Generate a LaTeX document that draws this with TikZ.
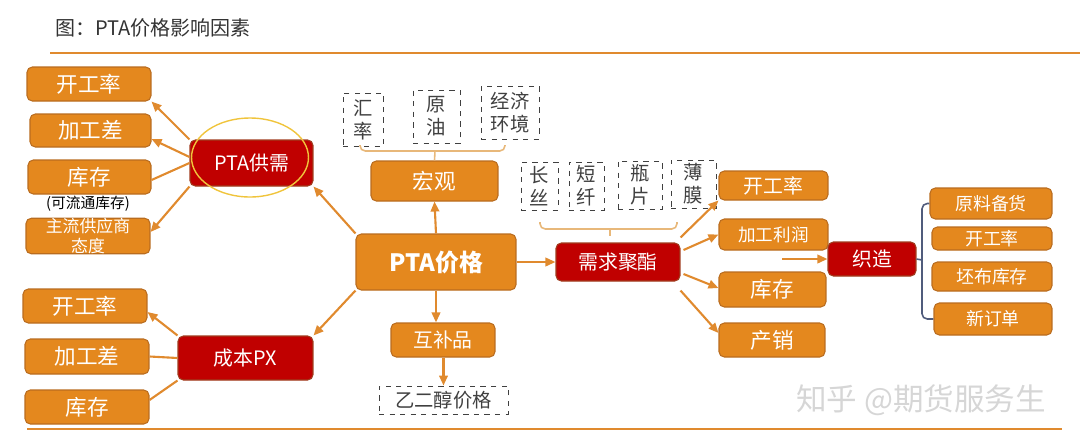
\documentclass[tikz,border=0pt]{standalone}
\usepackage{fontspec}
\setmainfont{Noto Sans CJK SC}
\usepackage{tikz}
\usetikzlibrary{arrows.meta,positioning,calc}
\definecolor{ptaorange}{RGB}{228,136,30}
\definecolor{ptaedge}{RGB}{185,108,30}
\definecolor{ptared}{RGB}{192,0,0}
\definecolor{rededge}{RGB}{160,60,30}
\definecolor{ptaline}{RGB}{224,138,46}
\definecolor{bracetan}{RGB}{232,184,122}
\definecolor{slate}{RGB}{80,92,124}
\definecolor{dashgrey}{RGB}{64,64,64}
\definecolor{hilite}{RGB}{240,196,60}

\begin{document}
\begin{tikzpicture}[x=0.02cm,y=-0.02cm,
  every node/.style={font=\fontsize{11.3}{13}\selectfont},
  obox/.style={draw=ptaedge,fill=ptaorange,text=white,rounded corners=3pt,align=center,inner sep=0pt,line width=0.6pt},
  rbox/.style={draw=rededge,fill=ptared,text=white,rounded corners=3pt,align=center,inner sep=0pt,line width=0.6pt},
  dbox/.style={draw=dashgrey,dashed,fill=white,text=dashgrey,align=center,inner sep=0pt,line width=0.5pt,font=\fontsize{11}{13}\selectfont},
  ar/.style={-{Triangle[length=2mm,width=1.7mm]},ptaline,line width=1.2pt},
  ln/.style={ptaline,line width=1.2pt},
  brc/.style={bracetan,line width=0.9pt,rounded corners=3pt},
  brc2/.style={slate,line width=0.9pt,rounded corners=3pt}]
\useasboundingbox (0,0) rectangle (1080,444);
% title and rules
\node[anchor=west,text=black!80,font=\fontsize{11.4}{13}\selectfont] (ttl) at (49,28) {图：PTA价格影响因素};
\draw[ptaline,line width=1.6pt] (50,53) -- (1080,53);
\draw[ptaline,line width=1.6pt] (27,429) -- (1062,429);
\node[text=black!16,font=\fontsize{17.4}{19}\selectfont] (wm) at (921,400) {知乎 @期货服务生};
% supply side
\node[obox,minimum width=2.48cm,minimum height=0.68cm,font=\fontsize{12.3}{14}\selectfont] (s1) at (89,84) {开工率};
\node[obox,minimum width=2.42cm,minimum height=0.66cm,font=\fontsize{12.3}{14}\selectfont] (s2) at (90.5,130.5) {加工差};
\node[obox,minimum width=2.46cm,minimum height=0.68cm,font=\fontsize{12.3}{14}\selectfont] (s3) at (89.5,177) {库存};
\node[font=\fontsize{8.4}{10}\selectfont] (s3n) at (88,204) {(可流通库存)};
\node[obox,minimum width=2.48cm,minimum height=0.68cm,font=\fontsize{9.6}{11.3}\selectfont] (s4) at (88,236) {主流供应商\\态度};
\node[rbox,minimum width=2.46cm,minimum height=0.92cm] (sd) at (251.5,163) {PTA供需};
\draw[hilite,line width=0.8pt] (250,157.5) ellipse [x radius=1.17cm,y radius=0.79cm];
% cost side
\node[obox,minimum width=2.48cm,minimum height=0.68cm,font=\fontsize{12.3}{14}\selectfont] (c1) at (85,306) {开工率};
\node[obox,minimum width=2.48cm,minimum height=0.70cm,font=\fontsize{12.3}{14}\selectfont] (c2) at (87,356.5) {加工差};
\node[obox,minimum width=2.48cm,minimum height=0.68cm,font=\fontsize{12.3}{14}\selectfont] (c3) at (87,407) {库存};
\node[rbox,minimum width=2.70cm,minimum height=0.88cm] (cp) at (245.5,358) {成本PX};
% centre
\node[obox,minimum width=3.20cm,minimum height=1.12cm,font=\fontsize{13.6}{15}\selectfont\bfseries] (pta) at (436,262) {PTA价格};
\node[obox,minimum width=2.54cm,minimum height=0.80cm,font=\fontsize{12.3}{14}\selectfont] (mac) at (434.5,181) {宏观};
\node[obox,minimum width=2.08cm,minimum height=0.68cm] (cmp) at (443,340) {互补品};
\node[dbox,minimum width=2.58cm,minimum height=0.56cm] (meg) at (443.5,400) {乙二醇价格};
\node[dbox,minimum width=0.80cm,minimum height=1.06cm] (hl) at (363,119.5) {汇\\率};
\node[dbox,minimum width=0.94cm,minimum height=1.06cm] (yo) at (436.5,116.5) {原\\油};
\node[dbox,minimum width=1.16cm,minimum height=1.06cm] (jj) at (510,112.5) {经济\\环境};
\draw[brc] (360,145) -- (360,151) -- (505,151) -- (505,145);
\draw[bracetan,line width=0.9pt] (435,151) -- (mac.north);
% demand side
\node[rbox,minimum width=2.48cm,minimum height=0.76cm] (xq) at (618,262) {需求聚酯};
\node[dbox,minimum width=0.74cm,minimum height=0.96cm] (cs) at (539.5,186) {长\\丝};
\node[dbox,minimum width=0.70cm,minimum height=0.96cm] (dx) at (586.5,186) {短\\纤};
\node[dbox,minimum width=0.88cm,minimum height=0.96cm] (pp) at (640,185) {瓶\\片};
\node[dbox,minimum width=0.90cm,minimum height=0.96cm] (bm) at (693.5,184) {薄\\膜};
\draw[brc] (540,222) -- (540,229) -- (677,229) -- (677,222);
\draw[bracetan,line width=0.9pt] (610,229) -- (610,236);
\node[obox,minimum width=2.18cm,minimum height=0.58cm] (r1) at (773.5,185.5) {开工率};
\node[obox,minimum width=2.18cm,minimum height=0.62cm,font=\fontsize{10}{12}\selectfont] (r2) at (773.5,234.5) {加工利润};
\node[obox,minimum width=2.14cm,minimum height=0.70cm,font=\fontsize{12.3}{14}\selectfont] (r3) at (772.5,289.5) {库存};
\node[obox,minimum width=2.12cm,minimum height=0.68cm,font=\fontsize{12.3}{14}\selectfont] (r4) at (772,340) {产销};
% weaving
\node[rbox,minimum width=1.76cm,minimum height=0.68cm] (zz) at (872,259) {织造};
\coordinate (zin) at (782,259);
\coordinate (bk) at (922,260);
\node[obox,minimum width=2.44cm,minimum height=0.62cm,font=\fontsize{10.2}{12}\selectfont] (w1) at (991,203.5) {原料备货};
\node[obox,minimum width=2.40cm,minimum height=0.46cm,font=\fontsize{10.2}{12}\selectfont] (w2) at (992,238.5) {开工率};
\node[obox,minimum width=2.40cm,minimum height=0.58cm,font=\fontsize{10.2}{12}\selectfont] (w3) at (992,276.5) {坯布库存};
\node[obox,minimum width=2.36cm,minimum height=0.64cm,font=\fontsize{10.2}{12}\selectfont] (w4) at (993,319) {新订单};
\draw[brc2] (w1.west) -| (bk) |- (w4.west);
\draw[slate,line width=0.9pt] (zz.east) -- (bk);
% connectors
\draw[ar] (pta.north) -- (mac.south);
\draw[ar] (pta.south) -- (cmp.north -| pta.south);
\draw[ar] (cmp.south -| meg.north) -- (meg.north);
\draw[ar] (pta.north west) -- (sd.south east);
\draw[ar] (pta.south west) -- (cp.north east);
\draw[ar] (pta.east) -- (xq.west);
\draw[ar] (sd.north west) -- (s1.south east);
\draw[ar] ($(sd.west)+(0,-6)$) -- (s2.east |- 0,139);
\draw[ln] (sd.west) -- (s3.east |- 0,180);
\draw[ar] (sd.south west) -- (s4.north east |- 0,232);
\draw[ar] (cp.north west) -- (c1.east |- 0,312);
\draw[ln] (cp.west) -- (c2.east);
\draw[ln] (cp.south west) -- (c3.east |- 0,400);
\draw[ar] ($(xq.north east)+(0,-5)$) -- (r1.south west);
\draw[ar] ($(xq.east)+(3,-12)$) -- (r2.west);
\draw[ar] ($(xq.east)+(3,12)$) -- (r3.west |- 0,288);
\draw[ar] ($(xq.south east)+(0,9)$) -- (r4.west |- 0,333);
\draw[ar] (zin) -- (zz.west);
\end{tikzpicture}
\end{document}
